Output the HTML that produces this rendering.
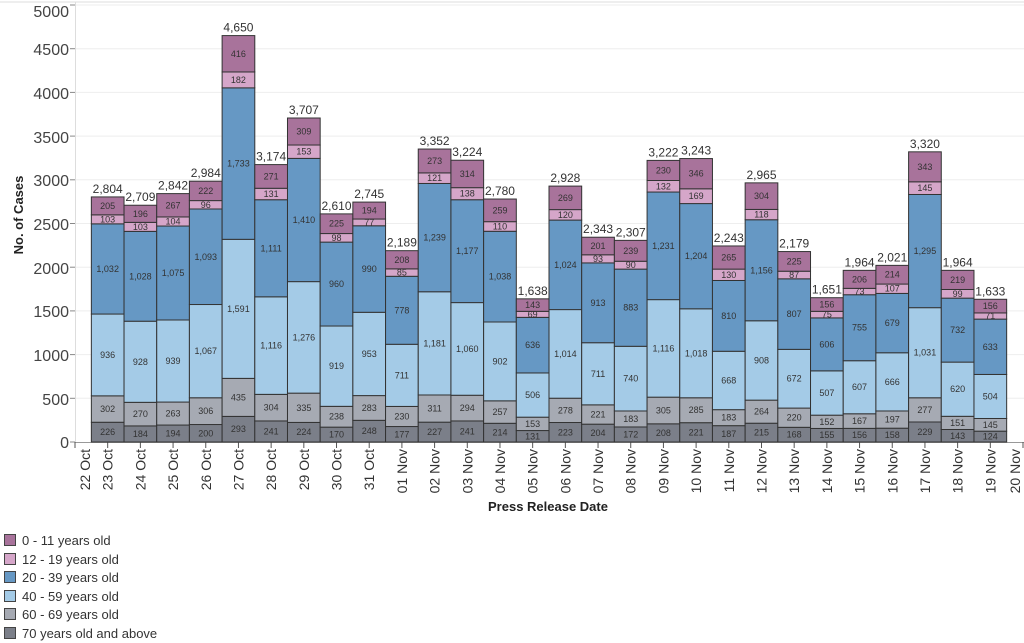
<!DOCTYPE html>
<html><head><meta charset="utf-8"><style>
body{margin:0;background:#fff;}
svg{display:block;font-family:"Liberation Sans",sans-serif;}
.v{font-size:9px;fill:#333;text-anchor:middle;}
.t{font-size:12px;fill:#333;text-anchor:middle;}
</style></head><body>
<svg id="s" width="1024" height="643" viewBox="0 0 1024 643">
<line x1="0" y1="2" x2="1024" y2="2" stroke="#ddd"/>
<g id="grid"></g>
<g id="bars"></g>
<g id="data">
<g><text>226</text><text>302</text><text>936</text><text>1,032</text><text>103</text><text>205</text><text>2,804</text></g>
<g><text>184</text><text>270</text><text>928</text><text>1,028</text><text>103</text><text>196</text><text>2,709</text></g>
<g><text>194</text><text>263</text><text>939</text><text>1,075</text><text>104</text><text>267</text><text>2,842</text></g>
<g><text>200</text><text>306</text><text>1,067</text><text>1,093</text><text>96</text><text>222</text><text>2,984</text></g>
<g><text>293</text><text>435</text><text>1,591</text><text>1,733</text><text>182</text><text>416</text><text>4,650</text></g>
<g><text>241</text><text>304</text><text>1,116</text><text>1,111</text><text>131</text><text>271</text><text>3,174</text></g>
<g><text>224</text><text>335</text><text>1,276</text><text>1,410</text><text>153</text><text>309</text><text>3,707</text></g>
<g><text>170</text><text>238</text><text>919</text><text>960</text><text>98</text><text>225</text><text>2,610</text></g>
<g><text>248</text><text>283</text><text>953</text><text>990</text><text>77</text><text>194</text><text>2,745</text></g>
<g><text>177</text><text>230</text><text>711</text><text>778</text><text>85</text><text>208</text><text>2,189</text></g>
<g><text>227</text><text>311</text><text>1,181</text><text>1,239</text><text>121</text><text>273</text><text>3,352</text></g>
<g><text>241</text><text>294</text><text>1,060</text><text>1,177</text><text>138</text><text>314</text><text>3,224</text></g>
<g><text>214</text><text>257</text><text>902</text><text>1,038</text><text>110</text><text>259</text><text>2,780</text></g>
<g><text>131</text><text>153</text><text>506</text><text>636</text><text>69</text><text>143</text><text>1,638</text></g>
<g><text>223</text><text>278</text><text>1,014</text><text>1,024</text><text>120</text><text>269</text><text>2,928</text></g>
<g><text>204</text><text>221</text><text>711</text><text>913</text><text>93</text><text>201</text><text>2,343</text></g>
<g><text>172</text><text>183</text><text>740</text><text>883</text><text>90</text><text>239</text><text>2,307</text></g>
<g><text>208</text><text>305</text><text>1,116</text><text>1,231</text><text>132</text><text>230</text><text>3,222</text></g>
<g><text>221</text><text>285</text><text>1,018</text><text>1,204</text><text>169</text><text>346</text><text>3,243</text></g>
<g><text>187</text><text>183</text><text>668</text><text>810</text><text>130</text><text>265</text><text>2,243</text></g>
<g><text>215</text><text>264</text><text>908</text><text>1,156</text><text>118</text><text>304</text><text>2,965</text></g>
<g><text>168</text><text>220</text><text>672</text><text>807</text><text>87</text><text>225</text><text>2,179</text></g>
<g><text>155</text><text>152</text><text>507</text><text>606</text><text>75</text><text>156</text><text>1,651</text></g>
<g><text>156</text><text>167</text><text>607</text><text>755</text><text>73</text><text>206</text><text>1,964</text></g>
<g><text>158</text><text>197</text><text>666</text><text>679</text><text>107</text><text>214</text><text>2,021</text></g>
<g><text>229</text><text>277</text><text>1,031</text><text>1,295</text><text>145</text><text>343</text><text>3,320</text></g>
<g><text>143</text><text>151</text><text>620</text><text>732</text><text>99</text><text>219</text><text>1,964</text></g>
<g><text>124</text><text>145</text><text>504</text><text>633</text><text>71</text><text>156</text><text>1,633</text></g>
</g>
<g id="yl" font-size="16" fill="#444" text-anchor="end">
<text x="69" y="448">0</text><text x="69" y="405">500</text><text x="69" y="361">1000</text><text x="69" y="317">1500</text><text x="69" y="274">2000</text><text x="69" y="230">2500</text><text x="69" y="186">3000</text><text x="69" y="143">3500</text><text x="69" y="99">4000</text><text x="69" y="55">4500</text><text x="69" y="17">5000</text>
</g>
<text transform="translate(23,215) rotate(-90)" font-size="13" font-weight="bold" fill="#222" text-anchor="middle">No. of Cases</text>
<g id="xl" font-size="14" fill="#333" text-anchor="end">
<text>22 Oct</text><text>23 Oct</text><text>24 Oct</text><text>25 Oct</text><text>26 Oct</text><text>27 Oct</text><text>28 Oct</text><text>29 Oct</text><text>30 Oct</text><text>31 Oct</text><text>01 Nov</text><text>02 Nov</text><text>03 Nov</text><text>04 Nov</text><text>05 Nov</text><text>06 Nov</text><text>07 Nov</text><text>08 Nov</text><text>09 Nov</text><text>10 Nov</text><text>11 Nov</text><text>12 Nov</text><text>13 Nov</text><text>14 Nov</text><text>15 Nov</text><text>16 Nov</text><text>17 Nov</text><text>18 Nov</text><text>19 Nov</text><text>20 Nov</text>
</g>
<text x="548" y="511" font-size="13" font-weight="bold" fill="#222" text-anchor="middle">Press Release Date</text>
<g font-size="13" fill="#333">
<rect x="4.5" y="534.5" width="11" height="11" fill="#a8739b" stroke="#444"/><text x="22" y="545">0 - 11 years old</text>
<rect x="4.5" y="553.5" width="11" height="11" fill="#d5a6c9" stroke="#444"/><text x="22" y="564">12 - 19 years old</text>
<rect x="4.5" y="571.5" width="11" height="11" fill="#6698c4" stroke="#444"/><text x="22" y="582">20 - 39 years old</text>
<rect x="4.5" y="590.5" width="11" height="11" fill="#a4cbe7" stroke="#444"/><text x="22" y="601">40 - 59 years old</text>
<rect x="4.5" y="608.5" width="11" height="11" fill="#a6aab3" stroke="#444"/><text x="22" y="619">60 - 69 years old</text>
<rect x="4.5" y="627.5" width="11" height="11" fill="#7b7f89" stroke="#444"/><text x="22" y="638">70 years old and above</text>
</g>
</svg>
<script>
var NS="http://www.w3.org/2000/svg";
function el(t,a,p){var e=document.createElementNS(NS,t);for(var k in a)e.setAttribute(k,a[k]);p.appendChild(e);return e;}
var Y0=442,S=0.0874,X0=75,D=32.69;
var grid=document.getElementById('grid'),bars=document.getElementById('bars');
for(var v=500;v<=5000;v+=500){var y=Y0-v*S;el('line',{x1:76,x2:1024,y1:y,y2:y,stroke:'#eee'},grid);el('line',{x1:70,x2:75,y1:y,y2:y,stroke:'#888'},grid);}
el('line',{x1:70,x2:75,y1:Y0,y2:Y0,stroke:'#888'},grid);
el('line',{x1:75.5,x2:75.5,y1:2,y2:Y0,stroke:'#ddd'},grid);
var cols=['#7b7f89','#a6aab3','#a4cbe7','#6698c4','#d5a6c9','#a8739b'];
var gs=document.getElementById('data').children;
for(var i=0;i<gs.length;i++){
 var ts=gs[i].children,cx=X0+D*(i+1),x=cx-D/2,cum=0;
 for(var j=0;j<6;j++){
  var val=parseInt(ts[j].textContent.replace(',',''));
  var yb=Y0-cum*S,yt=Y0-(cum+val)*S;
  el('rect',{x:x,y:yt,width:D,height:yb-yt,fill:cols[j],stroke:'#333','stroke-width':1},bars);
  ts[j].setAttribute('class','v');ts[j].setAttribute('x',cx);ts[j].setAttribute('y',(yb+yt)/2+3);
  cum+=val;
 }
 ts[6].setAttribute('class','t');ts[6].setAttribute('x',cx);ts[6].setAttribute('y',Y0-cum*S-4);
}
el('line',{x1:75,x2:1024,y1:Y0+0.5,y2:Y0+0.5,stroke:'#999'},grid);
var xl=document.getElementById('xl').children;
for(var k=0;k<xl.length;k++){var tx=X0+D*k;
 el('line',{x1:tx,x2:tx,y1:Y0,y2:Y0+6,stroke:'#555'},grid);
 var lx=tx+5;if(k==0)lx=90;if(k==29)lx=1020;
 xl[k].setAttribute('transform','translate('+lx+','+(Y0+7)+') rotate(-90)');}
</script>
</body></html>
